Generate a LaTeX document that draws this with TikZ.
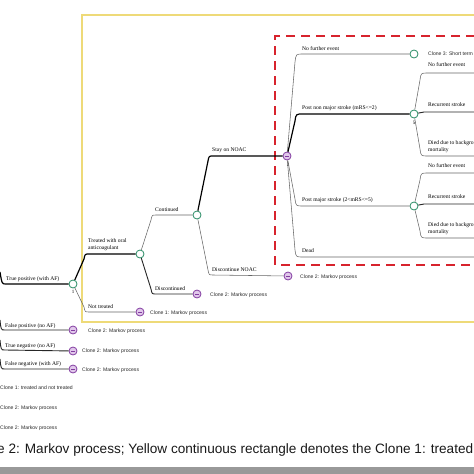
\documentclass[tikz,border=0pt]{standalone}
\usepackage{fontspec}
\setmainfont{Liberation Serif}
\newfontfamily\capfont{Liberation Sans}
\definecolor{chgreen}{RGB}{40,140,100}
\definecolor{mkpurple}{RGB}{130,60,160}
\definecolor{mkfill}{RGB}{225,200,235}
\definecolor{ybox}{RGB}{238,218,120}
\definecolor{rbox}{RGB}{215,35,45}
\begin{document}
\begin{tikzpicture}[x=1pt,y=-1pt,
 chance/.style={circle,draw=chgreen,fill=white,line width=0.8pt,minimum size=8pt,inner sep=0pt},
 markov/.style={circle,draw=mkpurple,fill=mkfill,line width=0.8pt,minimum size=8pt,inner sep=0pt,
   path picture={\draw[mkpurple,line width=0.6pt] ([xshift=-2pt]path picture bounding box.center) -- ([xshift=2pt]path picture bounding box.center);}},
 lbl/.style={font=\fontsize{5.6}{6.5}\selectfont, anchor=base west, inner sep=0pt},
 clone/.style={font=\capfont\fontsize{5.1}{5.8}\selectfont, anchor=west, inner sep=0pt, text=black!85},
 num/.style={font=\fontsize{5}{6}\selectfont, inner sep=0pt},
 thickbr/.style={line width=1.2pt, black},
 midbr/.style={line width=0.9pt, black!85},
 thinbr/.style={line width=0.55pt, black!60},
 ]
\useasboundingbox (0,0) rectangle (474,474);
\clip (0,0) rectangle (474,474);
% boxes
\draw[ybox, line width=1.4pt] (520,15) -- (82,15) -- (82,322) -- (520,322);
\draw[rbox, line width=1.6pt, dash pattern=on 9pt off 6pt] (520,36) -- (275,36) -- (275,265) -- (520,265);

% nodes
\node[chance] (n1) at (73,284) {};
\node[num] (l1) at (73,292) {1};
\node[chance] (n3) at (140,254) {};
\node[markov] (m1) at (140,312) {};
\node[chance] (n4) at (197,215) {};
\node[markov] (m2) at (197,294) {};
\node[markov] (m3) at (287,156) {};
\node[num] (l2) at (288,165) {2};
\node[markov] (m4) at (288,276) {};
\node[chance] (n5a) at (414,54) {};
\node[chance] (n5) at (414,114) {};
\node[num] (l5) at (414,123) {5};
\node[chance] (n6) at (414,206) {};
\node[markov] (mfp) at (73,330) {};
\node[markov] (mtn) at (73,351) {};
\node[markov] (mfn) at (73,369) {};

% free ends
\coordinate (r1) at (0,272);
\coordinate (r2) at (0,320);
\coordinate (r3) at (0,340);
\coordinate (r4) at (0,359);
\coordinate (eDead) at (480,257);
\coordinate (e5a) at (480,73);
\coordinate (e5b) at (480,112);
\coordinate (e5c) at (480,156);
\coordinate (e6a) at (480,173);
\coordinate (e6b) at (480,204);
\coordinate (e6c) at (480,238);

% root branches
\draw[thickbr] (r1) .. controls (2,284) .. (6,284) -- (n1);
\draw[midbr] (r2) .. controls (1,330) .. (5,330) -- (mfp);
\draw[midbr] (r3) .. controls (1,350) .. (5,350) -- (mtn);
\draw[midbr] (r4) .. controls (1,369) .. (5,369) -- (mfn);
\node[lbl] (tp) at (6,280) {True positive (with AF)};
\node[lbl] (fp) at (5,327) {False positive (no AF)};
\node[lbl] (tn) at (5,347) {True negative (no AF)};
\node[lbl] (fn) at (5,365) {False negative (with AF)};
\node[clone] (cfp) at (88,331) {Clone 2: Markov process};
\node[clone] (ctn) at (82,351) {Clone 2: Markov process};
\node[clone] (cfn) at (82,370) {Clone 2: Markov process};
\node[clone] (leg1) at (0,388) {Clone 1: treated and not treated};
\node[clone] (leg2) at (0,408) {Clone 2: Markov process};
\node[clone] (leg3) at (0,428) {Clone 2: Markov process};

% node 1
\draw[thickbr] (n1) -- (84,259) .. controls (85,254) .. (89,254) -- (n3);
\draw[thinbr] (n1) -- (84,307) .. controls (85,312) .. (89,312) -- (m1);
\node[lbl] (ltr1) at (88,242) {Treated with oral};
\node[lbl] (ltr2) at (88,249) {anticoagulant};
\node[lbl] (lnt) at (88,308) {Not treated};
\node[clone] (cm1) at (150,313) {Clone 1: Markov process};

% node 3
\draw[thinbr] (n3) -- (151,220) .. controls (152,215) .. (156,215) -- (n4);
\draw[midbr] (n3) -- (151,289) .. controls (152,294) .. (156,294) -- (m2);
\node[lbl] (lco) at (155,211) {Continued};
\node[lbl] (ldi) at (155,290) {Discontinued};
\node[clone] (cm2) at (210,295) {Clone 2: Markov process};

% node 4
\draw[thickbr] (n4) -- (208,161) .. controls (209,156) .. (213,156) -- (m3);
\draw[thinbr] (n4) -- (208,270) .. controls (209,275) .. (213,275) -- (m4);
\node[lbl] (lst) at (212,151) {Stay on NOAC};
\node[lbl] (ldn) at (212,271) {Discontinue NOAC};
\node[clone] (cm4) at (300,277) {Clone 2: Markov process};

% Markov node 2
\draw[thinbr] (m3) -- (295,62) .. controls (296,54) .. (303,54) -- (n5a);
\draw[thickbr] (m3) -- (295,121) .. controls (296,114) .. (303,114) -- (n5);
\draw[thinbr] (m3) -- (295,199) .. controls (296,206) .. (303,206) -- (n6);
\draw[thinbr] (m3) -- (295,250) .. controls (296,257) .. (303,257) -- (eDead);
\node[lbl] (lnf) at (302,50) {No further event};
\node[lbl] (lpn) at (302,109) {Post non major stroke (mRS<=2)};
\node[lbl] (lpm) at (302,201) {Post major stroke (2<mRS<=5)};
\node[lbl] (ldead) at (302,252) {Dead};
\node[clone] (c3) at (428,54) {Clone 3: Short term event};

% node 5
\draw[thinbr] (n5) -- (420,80) .. controls (421,73) .. (428,73) -- (e5a);
\draw[midbr] (n5) -- (424,112) -- (e5b);
\draw[thinbr] (n5) -- (420,149) .. controls (421,156) .. (428,156) -- (e5c);
\node[lbl] (a1) at (428,66) {No further event};
\node[lbl] (a2) at (428,106) {Recurrent stroke};
\node[lbl] (a3) at (428,144) {Died due to background};
\node[lbl] (a4) at (428,151) {mortality};

% node 6
\draw[thinbr] (n6) -- (420,180) .. controls (421,173) .. (428,173) -- (e6a);
\draw[midbr] (n6) -- (424,204) -- (e6b);
\draw[thinbr] (n6) -- (420,231) .. controls (421,238) .. (428,238) -- (e6c);
\node[lbl] (b1) at (428,167) {No further event};
\node[lbl] (b2) at (428,198) {Recurrent stroke};
\node[lbl] (b3) at (428,226) {Died due to background};
\node[lbl] (b4) at (428,233) {mortality};

% caption and bottom bar
\node[anchor=base west, inner sep=0pt, font=\capfont\fontsize{13.6}{15}\selectfont, text=black!90] (cap) at (-3,453) {e 2: Markov process; Yellow continuous rectangle denotes the Clone 1: treated};
\fill[black!40] (0,467) rectangle (474,474);
\end{tikzpicture}
\end{document}
